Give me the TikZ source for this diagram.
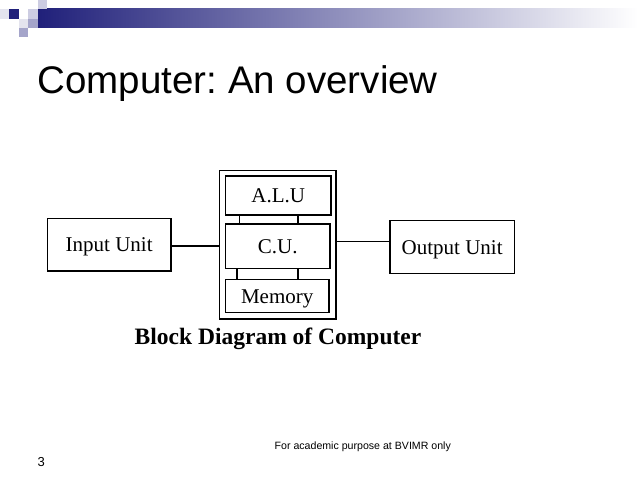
\documentclass[tikz,border=0pt]{standalone}
\usepackage{fontspec}
\setmainfont{Liberation Serif}
\newfontfamily\arialfont{Liberation Sans}
\frenchspacing
\definecolor{navy}{RGB}{32,32,122}
\definecolor{sqpale}{RGB}{228,228,238}
\definecolor{sqlight}{RGB}{205,205,226}
\definecolor{sqmid}{RGB}{165,165,202}
\tikzset{
  unitbox/.style={draw=black, line width=1.4pt, inner sep=0pt, text height=14.5pt, text depth=0pt,
    font=\fontsize{21}{24}\selectfont},
  link/.style={line width=1.4pt},
}
\begin{document}
\begin{tikzpicture}[x=1pt,y=-1pt]
\useasboundingbox (0,0) rectangle (638,478);
\fill[white] (0,0) rectangle (638,478);
% header decoration
\shade[left color=navy, right color=white] (38,9) rectangle (638,28);
\fill[sqpale] (0,9) rectangle (9,19);
\fill[navy] (9,9) rectangle (19,19);
\fill[sqlight] (28,9) rectangle (38,19);
\fill[sqlight] (38,0) rectangle (47,9);
\fill[sqpale] (19,19) rectangle (28,28);
\fill[sqmid] (28,19) rectangle (38,28);
\fill[sqmid] (19,28) rectangle (28,37);
% title
\node[anchor=base west, inner sep=0pt, font=\arialfont\fontsize{38.5}{44}\selectfont] (title) at (37.5,94)
  {Computer: An overview};
% diagram
\node[draw=black, line width=1.4pt, minimum width=116.7pt, minimum height=148.3pt, inner sep=0pt] (outer) at (277.7,244.9) {};
\node[unitbox, minimum width=105.7pt, minimum height=39pt] (alu) at (278.2,195.5) {A.L.U};
\node[unitbox, minimum width=104.7pt, minimum height=44.3pt] (cu) at (277.7,246.2) {C.U.};
\node[unitbox, minimum width=103.7pt, minimum height=33pt] (mem) at (277.2,295.8) {Memory};
\node[unitbox, minimum width=123.7pt, minimum height=52.7pt] (in) at (109.2,244.7) {Input Unit};
\node[unitbox, minimum width=124.3pt, minimum height=53.4pt] (out) at (452.2,247) {Output Unit};
\draw[link] ([yshift=-1.3pt]in.east) -- ([yshift=-1.3pt]outer.west |- in.east);
\draw[link] ([yshift=5.3pt]out.west) -- ([yshift=5.3pt]outer.east |- out.west);
\draw[link] ([xshift=14.7pt]alu.south west) -- ([xshift=14.7pt]alu.south west |- cu.north);
\draw[link] ([xshift=73.4pt]alu.south west) -- ([xshift=73.4pt]alu.south west |- cu.north);
\draw[link] ([xshift=12.4pt]cu.south west) -- ([xshift=12.4pt]cu.south west |- mem.north);
\draw[link] ([xshift=73.4pt]cu.south west) -- ([xshift=73.4pt]cu.south west |- mem.north);
\node[anchor=base, inner sep=0pt, font=\bfseries\fontsize{23.5}{27}\selectfont] (caption) at (278,344.3) {Block Diagram of Computer};
% footer
\node[anchor=base west, inner sep=0pt, font=\arialfont\fontsize{10.6}{12}\selectfont] (foot) at (274.5,449.4) {For academic purpose at BVIMR only};
\node[anchor=base west, inner sep=0pt, font=\arialfont\fontsize{13}{15}\selectfont] (num) at (37.5,466.6) {3};
\end{tikzpicture}
\end{document}
